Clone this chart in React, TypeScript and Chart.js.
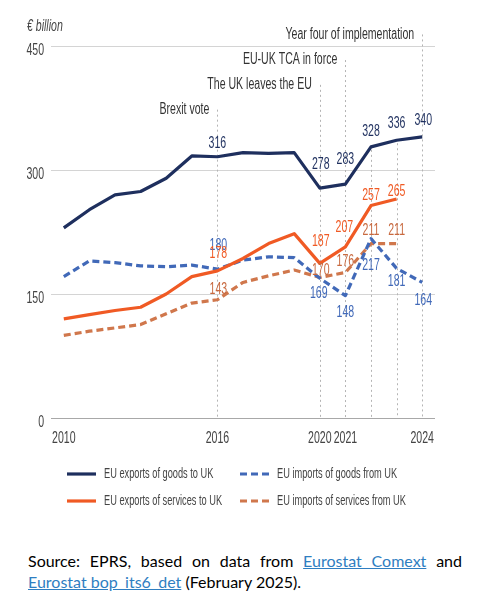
import React, { useEffect, useRef } from "react";
import { Chart, registerables } from "chart.js";

Chart.register(...registerables);

// ---- data ----
const years = [2010, 2011, 2012, 2013, 2014, 2015, 2016, 2017, 2018, 2019, 2020, 2021, 2022, 2023, 2024];
const exportsGoods = [230, 252, 270, 274, 290, 317, 316, 321, 320, 321, 278, 283, 328, 336, 340];
const importsGoods = [171, 190, 188, 184, 183, 185, 180, 191, 195, 194, 169, 148, 217, 181, 164];
const exportsServices = [120, 125, 130, 134, 150, 171, 178, 193, 211, 223, 187, 207, 257, 265, null];
const importsServices = [100, 105, 109, 113, 126, 139, 143, 164, 172, 179, 170, 176, 211, 211, null];

const seriesNames = [
  "EU exports of goods to UK",
  "EU imports of goods from UK",
  "EU exports of services to UK",
  "EU imports of services from UK",
];
const yTicks = [0, 150, 300, 450];
const xTickYears = [2010, 2016, 2020, 2021, 2024];
const eventYears = [2016, 2020, 2021, 2024];
const eventNames = ["Brexit vote", "The UK leaves the EU", "EU-UK TCA in force", "Year four of implementation"];
const guideYears = [2022, 2023];
const labelledYears = [2016, 2020, 2021, 2022, 2023, 2024];

// ---- styles ----
const COLORS = ["#1e2f5e", "#4169b8", "#f05a24", "#d0774c"];
const LABEL_COLORS = ["#1e2f5e", "#4169b8", "#f05a24", "#c8693f"];
const DASHED = [false, true, false, true];
const EVENT_LEVELS = [373, 403, 433, 464]; // annotation heights in axis units
// label offsets (px) per series, keyed by year: [dx, dy]
const LABEL_OFFSETS: Record<number, [number, number]>[] = [
  { 2016: [0, -13], 2020: [1, -24], 2021: [0, -24], 2022: [0, -15], 2023: [0, -17], 2024: [1, -16] },
  { 2016: [1, -24], 2020: [-1, 15], 2021: [0, 17], 2022: [0, 27], 2023: [0, 13], 2024: [1, 18] },
  { 2016: [1, -17], 2020: [1, -22], 2021: [-1, -19], 2022: [0, -10], 2023: [0, -7] },
  { 2016: [1, -10], 2020: [1, -7], 2021: [0, -11], 2022: [0, -13], 2023: [0, -13] },
];

let FAMILY = '"Liberation Sans", Arial, sans-serif';
let SX = 0.66;

function detectNarrow(ctx: CanvasRenderingContext2D) {
  ctx.save();
  ctx.font = '20px monospace';
  const a = ctx.measureText("abcdefghijklmnop 0123456789").width;
  ctx.font = '20px "Liberation Sans Narrow", monospace';
  const b = ctx.measureText("abcdefghijklmnop 0123456789").width;
  ctx.restore();
  if (Math.abs(a - b) > 1) {
    FAMILY = '"Liberation Sans Narrow", "Liberation Sans", sans-serif';
    SX = 0.8;
  }
}

function txt(
  ctx: CanvasRenderingContext2D,
  s: string,
  x: number,
  y: number,
  opts: { size?: number; color?: string; align?: CanvasTextAlign; italic?: boolean } = {}
) {
  const { size = 16, color = "#333", align = "center", italic = false } = opts;
  ctx.save();
  ctx.font = `${italic ? "italic " : ""}${size}px ${FAMILY}`;
  ctx.fillStyle = color;
  ctx.textBaseline = "middle";
  ctx.textAlign = align;
  ctx.translate(x, y);
  ctx.scale(SX, 1);
  ctx.fillText(s, 0, 0);
  ctx.restore();
}

const allSeries = [exportsGoods, importsGoods, exportsServices, importsServices];

const decorPlugin = {
  id: "decor",
  beforeDatasetsDraw(chart: any) {
    const ctx: CanvasRenderingContext2D = chart.ctx;
    const xs = chart.scales.x;
    const ys = chart.scales.y;
    const bottom = ys.getPixelForValue(0);
    ctx.save();
    ctx.strokeStyle = "#b4b4b4";
    ctx.lineWidth = 1;
    ctx.setLineDash([2, 3]);
    eventYears.forEach((yr, i) => {
      const x = Math.round(xs.getPixelForValue(yr)) + 0.5;
      ctx.beginPath();
      ctx.moveTo(x, ys.getPixelForValue(EVENT_LEVELS[i]));
      ctx.lineTo(x, bottom);
      ctx.stroke();
    });
    guideYears.forEach((yr) => {
      const x = Math.round(xs.getPixelForValue(yr)) + 0.5;
      const v = exportsGoods[years.indexOf(yr)];
      ctx.beginPath();
      ctx.moveTo(x, ys.getPixelForValue(v) + 3);
      ctx.lineTo(x, bottom);
      ctx.stroke();
    });
    ctx.restore();
  },
  afterDraw(chart: any) {
    const ctx: CanvasRenderingContext2D = chart.ctx;
    const xs = chart.scales.x;
    const ys = chart.scales.y;
    // unit
    txt(ctx, "€ billion", 27, 27, { align: "left", italic: true, color: "#444" });
    // y tick labels
    yTicks.forEach((v) => {
      txt(ctx, String(v), 44, ys.getPixelForValue(v) + 5, { align: "right", color: "#444" });
    });
    // x tick labels
    xTickYears.forEach((yr) => {
      txt(ctx, String(yr), xs.getPixelForValue(yr), ys.getPixelForValue(0) + 21, { color: "#444" });
    });
    // event annotations
    eventYears.forEach((yr, i) => {
      txt(ctx, eventNames[i], xs.getPixelForValue(yr) - 8, ys.getPixelForValue(EVENT_LEVELS[i]), {
        align: "right",
        color: "#333",
      });
    });
    // data labels
    allSeries.forEach((arr, si) => {
      labelledYears.forEach((yr) => {
        const idx = years.indexOf(yr);
        const v = arr[idx];
        const off = LABEL_OFFSETS[si][yr];
        if (v == null || !off) return;
        txt(ctx, String(v), xs.getPixelForValue(yr) + off[0], ys.getPixelForValue(v) + off[1], {
          color: LABEL_COLORS[si],
        });
      });
    });
    // legend
    const colX = [67, 240];
    const rowY = [474, 501];
    [0, 1, 2, 3].forEach((k) => {
      const dsIndex = [0, 2, 1, 3][k];
      const ds = chart.data.datasets[dsIndex];
      const cx = colX[k % 2];
      const cy = rowY[Math.floor(k / 2)];
      ctx.save();
      ctx.strokeStyle = ds.borderColor;
      ctx.lineWidth = 3.2;
      ctx.setLineDash(ds.borderDash || []);
      ctx.beginPath();
      ctx.moveTo(cx, cy);
      ctx.lineTo(cx + 29, cy);
      ctx.stroke();
      ctx.restore();
      txt(ctx, ds.label, cx + 37, cy, { size: 14, align: "left", color: "#444" });
    });
  },
};

export default function App() {
  const ref = useRef<HTMLCanvasElement | null>(null);
  useEffect(() => {
    const canvas = ref.current!;
    const c2 = canvas.getContext("2d")!;
    detectNarrow(c2);
    const mk = (arr: (number | null)[], si: number, order: number) => ({
      label: seriesNames[si],
      data: years.map((yr, i) => ({ x: yr, y: arr[i] })),
      borderColor: COLORS[si],
      backgroundColor: COLORS[si],
      borderWidth: 3.2,
      borderDash: DASHED[si] ? [7, 4] : [],
      borderJoinStyle: "round" as const,
      pointRadius: 0,
      tension: 0,
      spanGaps: false,
      order,
    });
    const chart = new Chart(canvas, {
      type: "line",
      data: {
        datasets: [
          mk(exportsGoods, 0, 0),
          mk(exportsServices, 2, 1),
          mk(importsGoods, 1, 2),
          mk(importsServices, 3, 3),
        ],
      },
      options: {
        responsive: false,
        animation: false,
        devicePixelRatio: 1,
        layout: { padding: { left: 51, top: 46, right: 48, bottom: 112 } },
        plugins: { legend: { display: false }, tooltip: { enabled: false }, title: { display: false } },
        scales: {
          x: {
            type: "linear",
            min: 2009.5,
            max: 2024.5,
            display: false,
          },
          y: {
            min: 0,
            max: 450,
            ticks: { stepSize: 150, display: false },
            grid: {
              drawTicks: false,
              color: (c: any) => (c.tick && c.tick.value === 0 ? "#a8a8a8" : "#d4d4d4"),
              lineWidth: 1,
            },
            border: { display: false },
          },
        },
      },
      plugins: [decorPlugin],
    });
    return () => chart.destroy();
  }, []);

  const link: React.CSSProperties = { color: "#2f7ec1", textDecoration: "underline" };
  return (
    <div style={{ position: "absolute", left: 0, top: 0, width: 483, height: 612, background: "#fff" }}>
      <canvas ref={ref} width={483} height={530} style={{ display: "block", width: 483, height: 530 }} />
      <div
        style={{
          position: "absolute",
          left: 28,
          top: 550,
          width: 434,
          fontFamily: "Lato, 'Open Sans', sans-serif",
          fontSize: 16,
          lineHeight: "21px",
          color: "#000",
        }}
      >
        <div style={{ textAlign: "justify", textAlignLast: "justify" }}>
          Source: EPRS, based on data from <span style={link}>Eurostat Comext</span> and
        </div>
        <div>
          <span style={link}>Eurostat bop_its6_det</span> (February 2025).
        </div>
      </div>
    </div>
  );
}
